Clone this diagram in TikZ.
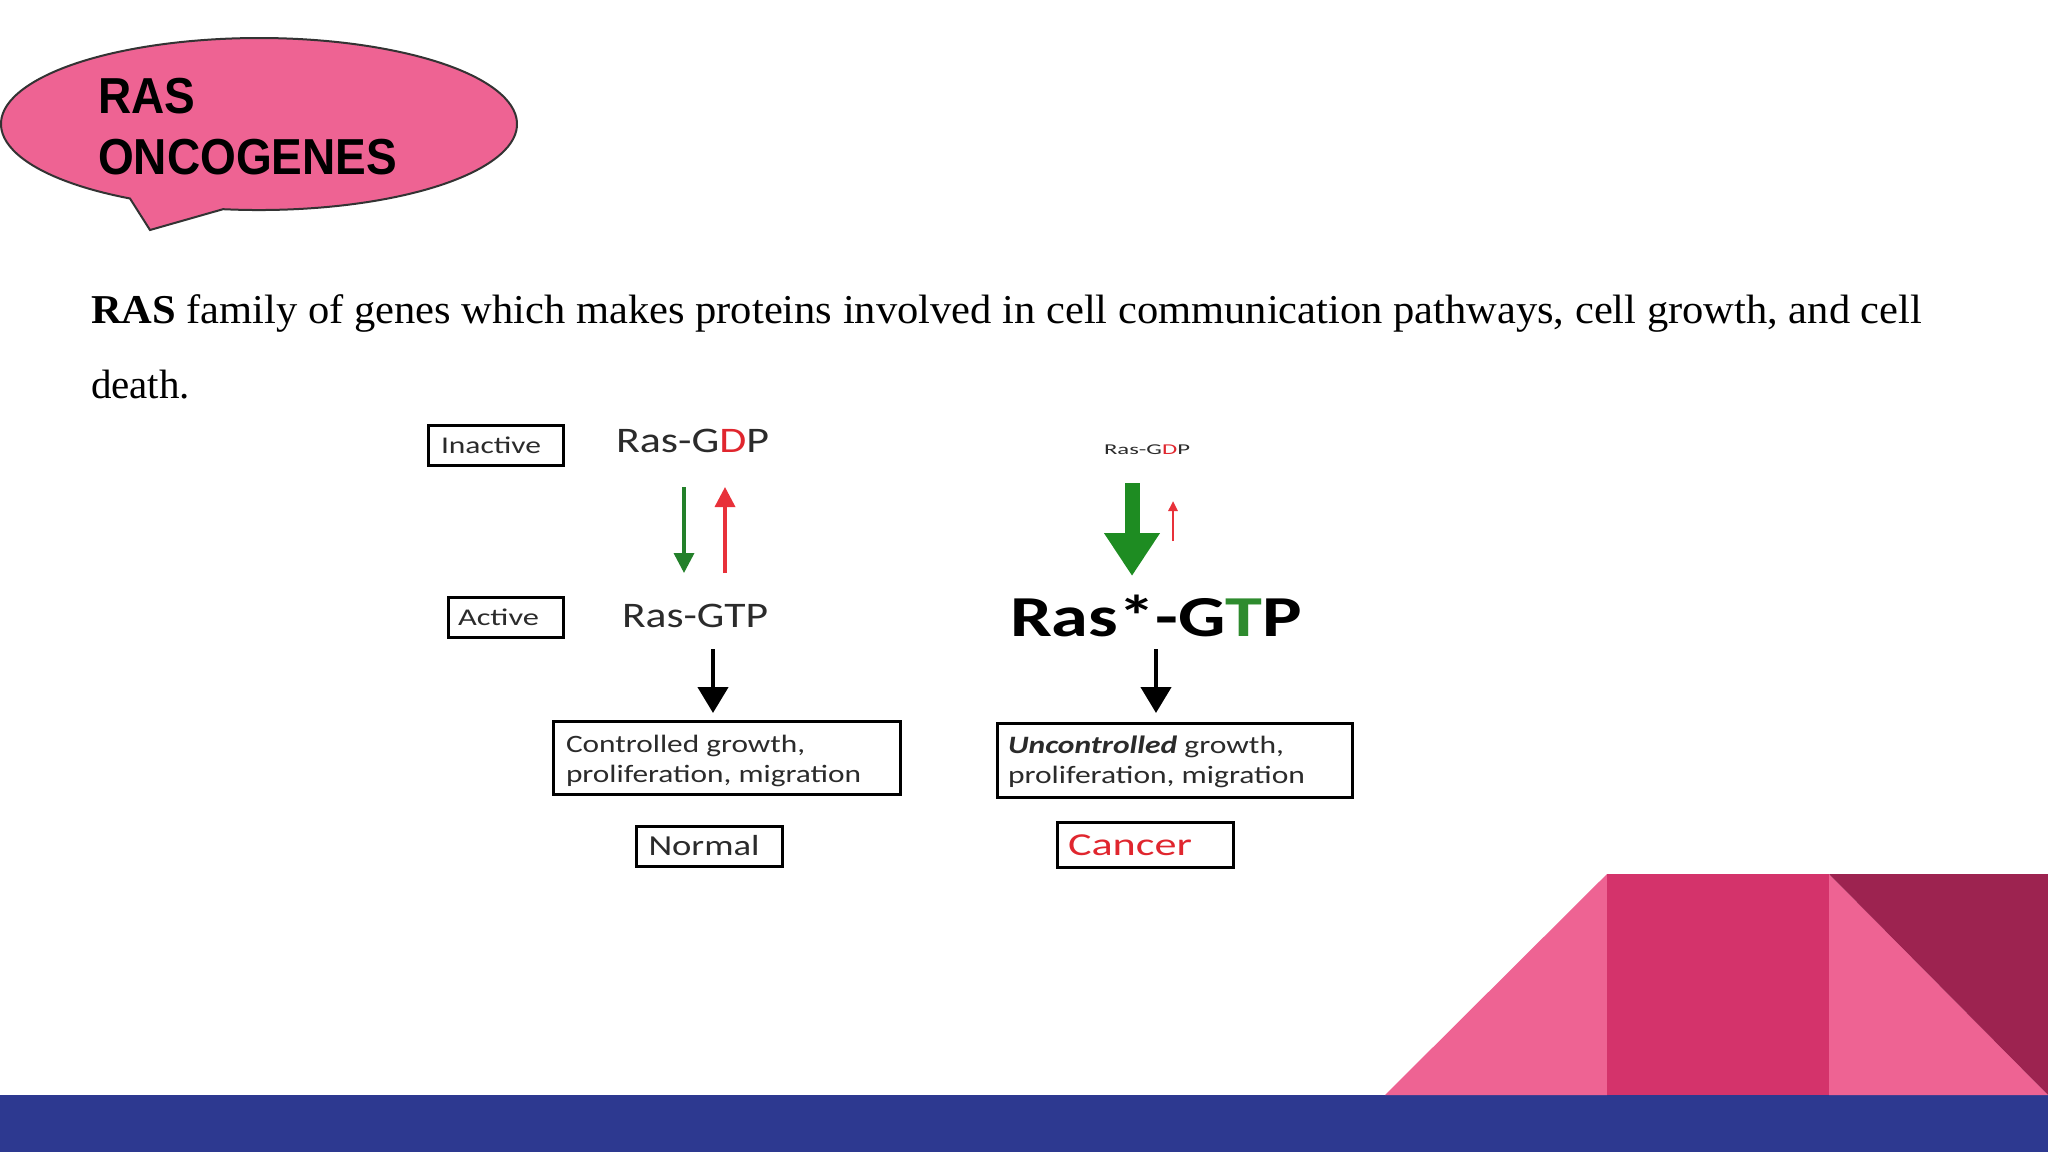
\documentclass[tikz,border=0pt]{standalone}
\usepackage{fontspec}
\usepackage{graphicx}
\setmainfont{Liberation Serif}
\newfontfamily\headfont{Liberation Sans}
\newfontfamily\diafont{Carlito}
\usetikzlibrary{arrows.meta}
\definecolor{bubblepink}{HTML}{EE6393}
\definecolor{midpink}{HTML}{D4336B}
\definecolor{darkpink}{HTML}{9D2350}
\definecolor{navy}{HTML}{2D3990}
\definecolor{txtgray}{HTML}{2B2B2B}
\definecolor{redtxt}{HTML}{E0262E}
\definecolor{greentxt}{HTML}{2E8B2E}
\definecolor{arrgreen}{HTML}{23802A}
\definecolor{biggreen}{HTML}{1E8C22}
\definecolor{arrred}{HTML}{E8313A}
\newcommand{\fitw}[2]{\resizebox{#1}{\height}{#2}}
\tikzset{
  dbox/.style={draw=black, line width=3pt, inner sep=0pt},
  plain/.style={inner sep=0pt, outer sep=0pt},
  dtext/.style={plain, text=txtgray},
  thinarrow/.style={line width=3.5pt, -{Triangle[length=20pt,width=20pt]}},
  blackarrow/.style={line width=4.5pt, black, -{Triangle[length=26pt,width=30pt]}},
}
\begin{document}
\begin{tikzpicture}[x=1pt,y=-1pt]
\useasboundingbox (0,0) rectangle (2048,1152);
\fill[white] (0,0) rectangle (2048,1152);

% speech bubble
\draw[fill=bubblepink, draw=black!80, line width=2pt, line join=miter]
  (130,198.5) arc[start angle=120, end angle=458, x radius=258, y radius=86]
  -- (150,230) -- cycle;
\node[plain, anchor=base west, font=\headfont\bfseries\fontsize{46}{46}\selectfont] (ttl1) at (98,113) {\scalebox{1}[1.1]{RAS}};
\node[plain, anchor=base west, font=\headfont\bfseries\fontsize{46}{46}\selectfont] (ttl2) at (98,174) {\scalebox{1}[1.1]{ONCOGENES}};

% body text
\node[plain, anchor=base west, font=\fontsize{41}{41}\selectfont] (body1) at (91,323)
  {\fitw{1831pt}{\textbf{RAS} family of genes which makes proteins involved in cell communication pathways, cell growth, and cell}};
\node[plain, anchor=base west, font=\fontsize{41}{41}\selectfont] (body2) at (91,398) {death.};

% left diagram
\node[dbox, minimum width=135pt, minimum height=40pt] (inactive) at (495.5,445) {};
\node[dtext, font=\diafont\fontsize{24}{24}\selectfont] (inactivet) at (491,445) {\fitw{100pt}{Inactive}};
\node[dbox, minimum width=115pt, minimum height=40pt] (active) at (505.5,617) {};
\node[dtext, font=\diafont\fontsize{24}{24}\selectfont] (activet) at (498.5,617) {\fitw{81pt}{Active}};

\node[dtext, anchor=base west, font=\diafont\fontsize{36}{36}\selectfont] (gdp) at (616,452)
  {\fitw{153pt}{Ras-G\textcolor{redtxt}{D}P}};
\node[dtext, anchor=base west, font=\diafont\fontsize{36}{36}\selectfont] (gtp) at (622,627)
  {\fitw{146pt}{Ras-GTP}};

\coordinate (ga1) at (684,487); \coordinate (ga2) at (684,573);
\coordinate (ra1) at (725,573); \coordinate (ra2) at (725,487);
\draw[thinarrow, arrgreen] (ga1) -- (ga2);
\draw[thinarrow, arrred] (ra1) -- (ra2);
\coordinate (ba1) at (713,649); \coordinate (ba2) at (713,713);
\draw[blackarrow] (ba1) -- (ba2);

\node[dbox, minimum width=347pt, minimum height=73pt] (ctrlbox) at (726.5,757.5) {};
\node[dtext, anchor=base west, font=\diafont\fontsize{25}{30}\selectfont] (ctrltxt) at (566,752)
  {\fitw{295pt}{\begin{tabular}[t]{@{}l@{}}Controlled growth,\\proliferation, migration\end{tabular}}};
\node[dbox, minimum width=146pt, minimum height=40pt] (normal) at (709,846) {};
\node[dtext, font=\diafont\fontsize{29}{29}\selectfont] (normalt) at (704,846) {\fitw{111pt}{Normal}};

% right diagram
\node[dtext, anchor=base west, font=\diafont\fontsize{15}{15}\selectfont] (gdp2) at (1104,454)
  {\fitw{86pt}{Ras-G\textcolor{redtxt}{D}P}};
\coordinate (bg1) at (1132,483); \coordinate (bg2) at (1132,576);
\draw[line width=15pt, biggreen, -{Triangle[length=43pt,width=53pt]}] (bg1) -- (bg2);
\coordinate (sr1) at (1173,541); \coordinate (sr2) at (1173,501);
\draw[line width=2.5pt, arrred, -{Triangle[length=10pt,width=9pt]}] (sr1) -- (sr2);
\node[plain, anchor=base west, text=black, font=\diafont\bfseries\fontsize{58}{58}\selectfont] (gtp2) at (1010,636)
  {\fitw{292pt}{Ras*-G\textcolor{greentxt}{T}P}};
\coordinate (bb1) at (1156,649); \coordinate (bb2) at (1156,713);
\draw[blackarrow] (bb1) -- (bb2);

\node[dbox, minimum width=355pt, minimum height=74pt] (unbox) at (1174.5,760) {};
\node[dtext, anchor=base west, font=\diafont\fontsize{25}{30}\selectfont] (untxt) at (1008,753)
  {\fitw{297pt}{\begin{tabular}[t]{@{}l@{}}\textbf{\textit{Uncontrolled}} growth,\\proliferation, migration\end{tabular}}};
\node[dbox, minimum width=176pt, minimum height=45pt] (cancer) at (1145,844.5) {};
\node[plain, text=redtxt, font=\diafont\fontsize{32}{32}\selectfont] (cancert) at (1130,845) {\fitw{124pt}{Cancer}};

% bottom decoration
\fill[navy] (0,1095) rectangle (2048,1152);
\fill[bubblepink] (1385,1095) -- (1607,874) -- (1607,1095) -- cycle;
\fill[midpink] (1607,874) rectangle (1829,1095);
\fill[bubblepink] (1829,874) -- (2048,1095) -- (1829,1095) -- cycle;
\fill[darkpink] (1829,874) -- (2048,874) -- (2048,1095) -- cycle;
\end{tikzpicture}
\end{document}
